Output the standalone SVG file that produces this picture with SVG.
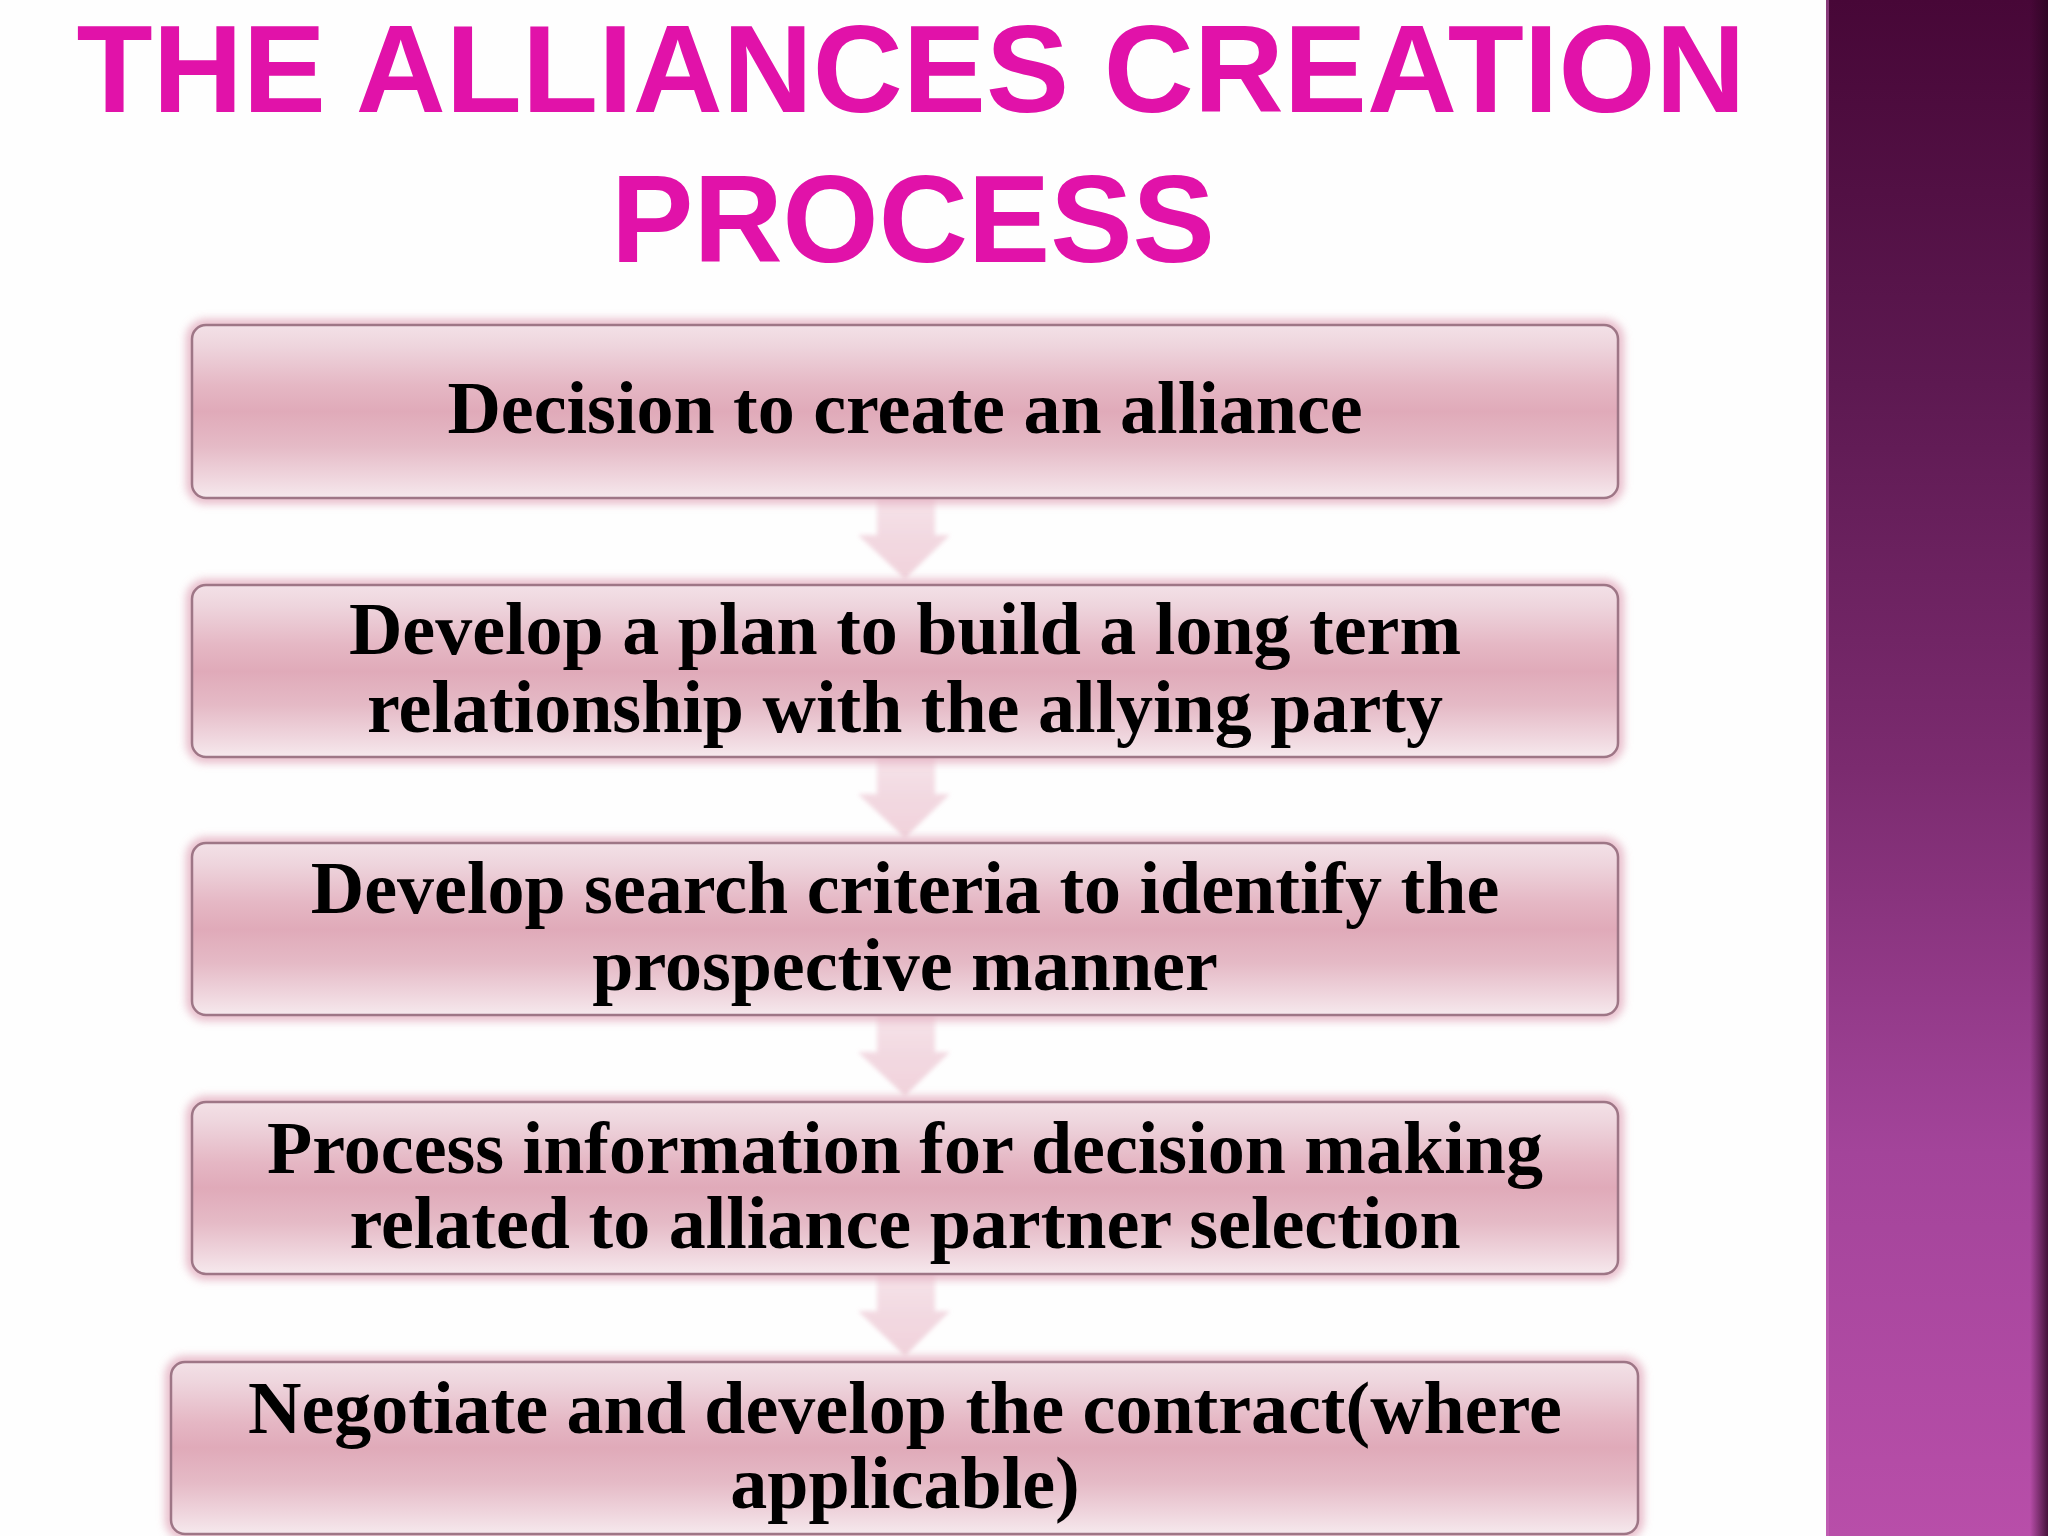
<svg xmlns="http://www.w3.org/2000/svg" width="2048" height="1536" viewBox="0 0 2048 1536">
<defs>
<linearGradient id="boxFill" x1="0" y1="0" x2="0" y2="1">
<stop offset="0" stop-color="#f3e1e7"/>
<stop offset="0.12" stop-color="#eed5dd"/>
<stop offset="0.35" stop-color="#e5b7c4"/>
<stop offset="0.5" stop-color="#e0aab9"/>
<stop offset="0.7" stop-color="#e5bac6"/>
<stop offset="0.88" stop-color="#efd5dd"/>
<stop offset="1" stop-color="#f6e9ed"/>
</linearGradient>
<linearGradient id="barFill" x1="0" y1="0" x2="0" y2="1">
<stop offset="0" stop-color="#470737"/>
<stop offset="0.25" stop-color="#5d1951"/>
<stop offset="0.5" stop-color="#7b2b6f"/>
<stop offset="0.75" stop-color="#a3449a"/>
<stop offset="1" stop-color="#b84ea9"/>
</linearGradient>
<linearGradient id="barShade" x1="0" y1="0" x2="1" y2="0">
<stop offset="0" stop-color="#2a0420" stop-opacity="0"/>
<stop offset="1" stop-color="#2a0420" stop-opacity="0.8"/>
</linearGradient>
<linearGradient id="arrowFill" x1="0" y1="0" x2="0" y2="1">
<stop offset="0" stop-color="#f4dce4"/>
<stop offset="0.5" stop-color="#efcdd8"/>
<stop offset="1" stop-color="#ecc4d0"/>
</linearGradient>
<filter id="glow" x="-5%" y="-20%" width="110%" height="140%">
<feGaussianBlur stdDeviation="4"/>
</filter>
<filter id="soft" x="-20%" y="-20%" width="140%" height="140%">
<feGaussianBlur stdDeviation="2"/>
</filter>
</defs>
<style>
.title{font-family:"Liberation Sans",Arial,sans-serif;font-weight:bold;fill:#e112a9;}
.label{font-family:"Liberation Serif","Times New Roman",serif;font-weight:bold;font-size:74px;fill:#000;text-anchor:middle;}
.halo{fill:none;stroke:#e4b0c1;stroke-width:12;opacity:0.85;}
.box{fill:url(#boxFill);stroke:#9e7686;stroke-width:2.5;}
.arrow{fill:url(#arrowFill);opacity:0.75;}
</style>
<rect x="0" y="0" width="2048" height="1536" fill="#fefefe"/>
<g id="sidebar">
<rect x="1826" y="0" width="222" height="1536" fill="url(#barFill)"/>
<rect x="1826" y="0" width="3" height="1536" fill="#c76cbb" opacity="0.5"/>
<rect x="2030" y="0" width="18" height="1536" fill="url(#barShade)"/>
</g>
<g id="title">
<text class="title" x="911" y="112" font-size="125" text-anchor="middle" textLength="1669" lengthAdjust="spacingAndGlyphs">THE ALLIANCES CREATION</text>
<text class="title" x="913" y="262" font-size="125" text-anchor="middle" textLength="604" lengthAdjust="spacingAndGlyphs">PROCESS</text>
</g>
<g id="connectors">
<polygon class="arrow" filter="url(#soft)" points="877,495 935,495 935,535 950,535 905,579 858,535 877,535"/>
<polygon class="arrow" filter="url(#soft)" points="877,754 935,754 935,794 950,794 905,838 858,794 877,794"/>
<polygon class="arrow" filter="url(#soft)" points="877,1012 935,1012 935,1052 950,1052 905,1096 858,1052 877,1052"/>
<polygon class="arrow" filter="url(#soft)" points="877,1271 935,1271 935,1311 950,1311 905,1356 858,1311 877,1311"/>
</g>
<g id="node1">
<rect class="halo" filter="url(#glow)" x="192" y="325" width="1426" height="173" rx="14"/>
<rect class="box" x="192" y="325" width="1426" height="173" rx="14"/>
<text class="label" x="905" y="433">Decision to create an alliance</text>
</g>
<g id="node2">
<rect class="halo" filter="url(#glow)" x="192" y="585" width="1426" height="172" rx="14"/>
<rect class="box" x="192" y="585" width="1426" height="172" rx="14"/>
<text class="label" x="905" y="654">Develop a plan to build a long term</text>
<text class="label" x="905" y="732">relationship with the allying party</text>
</g>
<g id="node3">
<rect class="halo" filter="url(#glow)" x="192" y="843" width="1426" height="172" rx="14"/>
<rect class="box" x="192" y="843" width="1426" height="172" rx="14"/>
<text class="label" x="905" y="913">Develop search criteria to identify the</text>
<text class="label" x="905" y="990">prospective manner</text>
</g>
<g id="node4">
<rect class="halo" filter="url(#glow)" x="192" y="1102" width="1426" height="172" rx="14"/>
<rect class="box" x="192" y="1102" width="1426" height="172" rx="14"/>
<text class="label" x="905" y="1173">Process information for decision making</text>
<text class="label" x="905" y="1248">related to alliance partner selection</text>
</g>
<g id="node5">
<rect class="halo" filter="url(#glow)" x="171" y="1362" width="1467" height="172" rx="14"/>
<rect class="box" x="171" y="1362" width="1467" height="172" rx="14"/>
<text class="label" x="905" y="1433">Negotiate and develop the contract(where</text>
<text class="label" x="905" y="1508">applicable)</text>
</g>
</svg>
